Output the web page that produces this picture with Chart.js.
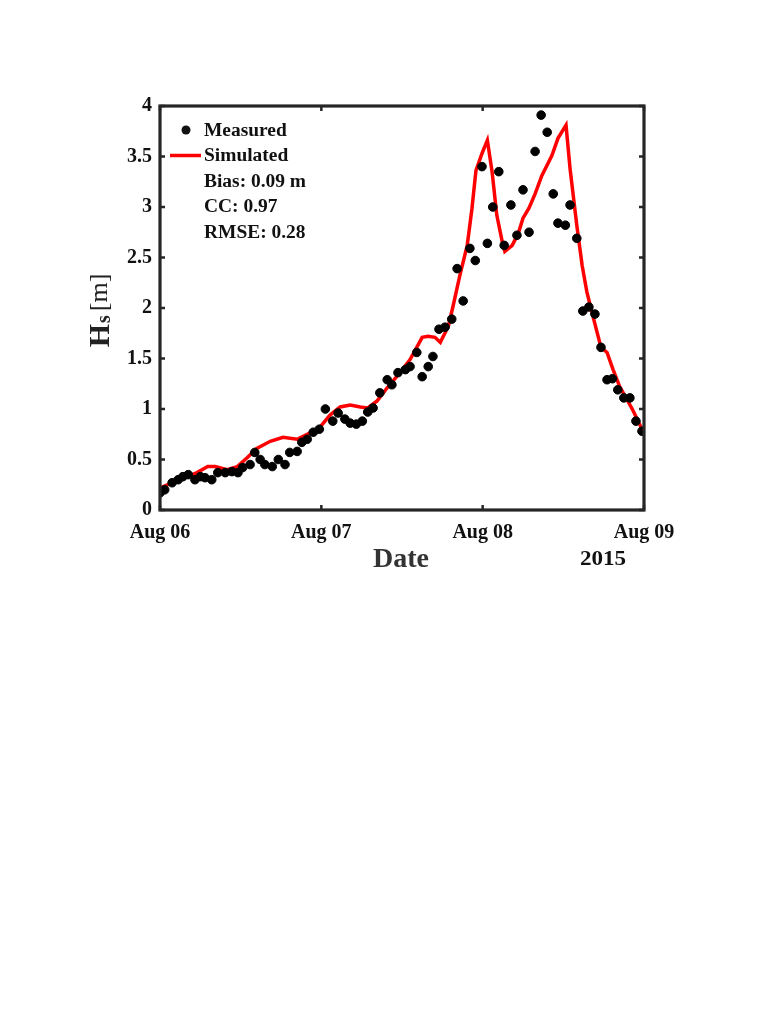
<!DOCTYPE html>
<html>
<head>
<meta charset="utf-8">
<script src="https://cdn.jsdelivr.net/npm/chart.js@4"></script>
<style>
  html, body { margin: 0; padding: 0; background: #fff; }
  #wrap { width: 768px; height: 1024px; }
</style>
</head>
<body>
<div id="wrap"><canvas id="chartHs" width="768" height="1024"></canvas></div>
<script>
// ===============================
// DATA (hours since Aug 06 00:00, Hs in m)
// ===============================
const dayLabels = ["Aug 06", "Aug 07", "Aug 08", "Aug 09"];

const measuredHours = [
    0.0, 0.7, 1.8, 2.7, 3.4, 4.2, 5.2, 6.0, 6.7, 7.7, 8.6, 9.7, 10.7, 11.6, 12.3, 13.4,
    14.1, 14.9, 15.6, 16.7, 17.6, 18.6, 19.3, 20.4, 21.1, 21.9, 22.8, 23.7, 24.6, 25.7,
    26.5, 27.5, 28.3, 29.2, 30.1, 30.9, 31.7, 32.7, 33.8, 34.5, 35.4, 36.5, 37.2, 38.2,
    39.0, 39.9, 40.6, 41.5, 42.4, 43.4, 44.2, 45.1, 46.1, 46.9, 47.9, 48.7, 49.5, 50.4,
    51.2, 52.2, 53.1, 54.0, 54.9, 55.8, 56.7, 57.6, 58.5, 59.2, 60.3, 61.0, 62.0, 62.9,
    63.8, 64.7, 65.6, 66.5, 67.3, 68.1, 69.0, 69.9, 70.8, 71.7
];
const measuredHs = [
    0.17, 0.20, 0.27, 0.30, 0.33, 0.35, 0.30, 0.33, 0.32, 0.30, 0.37, 0.37, 0.38, 0.37, 0.42, 0.45,
    0.57, 0.50, 0.45, 0.43, 0.50, 0.45, 0.57, 0.58, 0.67, 0.70, 0.77, 0.80, 1.00, 0.88,
    0.96, 0.90, 0.86, 0.85, 0.88, 0.97, 1.01, 1.16, 1.29, 1.24, 1.36, 1.39, 1.42, 1.56,
    1.32, 1.42, 1.52, 1.79, 1.81, 1.89, 2.39, 2.07, 2.59, 2.47, 3.40, 2.64, 3.00, 3.35,
    2.62, 3.02, 2.72, 3.17, 2.75, 3.55, 3.91, 3.74, 3.13, 2.84, 2.82, 3.02, 2.69, 1.97,
    2.01, 1.94, 1.61, 1.29, 1.30, 1.19, 1.11, 1.11, 0.88, 0.78
];

const simulatedHours = [
    0.0, 3.0, 5.5, 7.1, 8.2, 10.0, 11.5, 13.0, 14.4, 16.4, 18.3, 20.4, 21.9, 23.8, 25.3,
    26.8, 28.3, 29.8, 30.9, 32.3, 33.8, 35.7, 37.2, 39.0, 39.9, 40.9, 41.7, 42.9, 43.6,
    44.6, 45.7, 46.4, 47.0, 47.9, 48.7, 49.4, 50.1, 50.9, 51.3, 52.4, 53.3, 54.0, 54.9,
    55.8, 56.8, 58.3, 59.2, 60.4, 61.0, 62.0, 62.8, 63.5, 64.4, 65.6, 66.5, 67.4, 68.4,
    69.5, 70.4, 71.7
];
const simulatedHs = [
    0.22, 0.30, 0.37, 0.43, 0.43, 0.40, 0.43, 0.52, 0.61, 0.68, 0.72, 0.70, 0.75, 0.82, 0.94,
    1.02, 1.04, 1.02, 1.01, 1.08, 1.21, 1.36, 1.49, 1.71, 1.72, 1.71, 1.66, 1.82, 2.02,
    2.32, 2.62, 2.98, 3.36, 3.53, 3.66, 3.35, 2.92, 2.66, 2.56, 2.62, 2.74, 2.89, 2.99,
    3.13, 3.31, 3.51, 3.68, 3.81, 3.38, 2.82, 2.42, 2.16, 1.92, 1.61, 1.56, 1.39, 1.22,
    1.09, 0.98, 0.80
];

const statsLines = ["Bias: 0.09 m", "CC: 0.97", "RMSE: 0.28"];

const SERIF = "'Liberation Serif', 'DejaVu Serif', serif";
const FRAME = "#262626";

// ===============================
// PLUGIN — moldura, ticks interiores, legenda, títulos
// ===============================
function wideText(ctx, txt, x, y, sx) {
    // texto um pouco esticado na horizontal, como no original
    ctx.save();
    ctx.translate(x, y);
    ctx.scale(sx, 1);
    ctx.fillText(txt, 0, 0);
    ctx.restore();
}

const framePlugin = {
    id: "frame",
    afterDraw(chart) {
        const { ctx, chartArea: a, scales } = chart;
        const xs = scales.x, ys = scales.y;
        ctx.save();
        ctx.strokeStyle = FRAME;
        ctx.lineWidth = 3.2;
        ctx.strokeRect(a.left, a.top, a.right - a.left, a.bottom - a.top);

        // ticks para dentro
        ctx.lineWidth = 2.5;
        ctx.beginPath();
        ys.ticks.forEach(t => {
            const y = ys.getPixelForValue(t.value);
            ctx.moveTo(a.left, y); ctx.lineTo(a.left + 5, y);
            ctx.moveTo(a.right, y); ctx.lineTo(a.right - 5, y);
        });
        xs.ticks.forEach(t => {
            const x = xs.getPixelForValue(t.value);
            ctx.moveTo(x, a.bottom); ctx.lineTo(x, a.bottom - 5);
            ctx.moveTo(x, a.top); ctx.lineTo(x, a.top + 5);
        });
        ctx.stroke();

        // legenda
        ctx.font = "bold 18px " + SERIF;
        ctx.fillStyle = "#111";
        ctx.textBaseline = "middle";
        ctx.textAlign = "left";
        const lx = a.left + 44, ly = a.top + 25, dy = 25.5;
        ctx.beginPath();
        ctx.arc(a.left + 26, ly - 1, 4.5, 0, Math.PI * 2);
        ctx.fill();
        wideText(ctx, "Measured", lx, ly, 1.08);
        ctx.strokeStyle = "#ff0000";
        ctx.lineWidth = 3.5;
        ctx.beginPath();
        ctx.moveTo(a.left + 10, ly + dy - 1);
        ctx.lineTo(a.left + 41, ly + dy - 1);
        ctx.stroke();
        wideText(ctx, "Simulated", lx, ly + dy, 1.08);
        statsLines.forEach((s, i) => wideText(ctx, s, lx, ly + dy * (i + 2), 1.08));

        // título do eixo x e ano
        ctx.textAlign = "center";
        ctx.font = "bold 28px " + SERIF;
        ctx.fillStyle = "#333";
        ctx.fillText("Date", 401, 560);
        ctx.font = "bold 21px " + SERIF;
        ctx.fillStyle = "#111";
        wideText(ctx, "2015", 603, 560, 1.1);

        // título do eixo y: Hs [m]
        ctx.translate(101, 311);
        ctx.rotate(-Math.PI / 2);
        ctx.fillStyle = "#222";
        ctx.textAlign = "left";
        ctx.font = "bold 30px " + SERIF;
        const hW = ctx.measureText("H").width;
        ctx.font = "bold 20px " + SERIF;
        const sW = ctx.measureText("s").width;
        ctx.font = "26px " + SERIF;
        const mW = ctx.measureText("[m]").width;
        let x0 = -(hW + sW + 4 + mW) / 2;
        ctx.font = "bold 30px " + SERIF;
        ctx.fillText("H", x0, 0);
        ctx.font = "bold 20px " + SERIF;
        ctx.fillText("s", x0 + hW + 1, 4);
        ctx.font = "26px " + SERIF;
        ctx.fillText("[m]", x0 + hW + sW + 5, -1);
        ctx.restore();
    }
};

// ===============================
// GRÁFICO
// ===============================
const measuredPts = measuredHours.map((h, i) => ({ x: h, y: measuredHs[i] }));
const simulatedPts = simulatedHours.map((h, i) => ({ x: h, y: simulatedHs[i] }));

new Chart(document.getElementById("chartHs"), {
    type: "scatter",
    data: {
        datasets: [
            {
                label: "Simulated",
                type: "line",
                data: simulatedPts,
                borderColor: "#ff0000",
                borderWidth: 3.5,
                pointRadius: 0,
                tension: 0,
                fill: false,
                order: 2
            },
            {
                label: "Measured",
                data: measuredPts,
                backgroundColor: "#000",
                borderColor: "#000",
                pointRadius: 4.3,
                order: 1
            }
        ]
    },
    options: {
        responsive: false,
        animation: false,
        layout: { padding: { left: 0, right: 124, top: 106, bottom: 474 } },
        plugins: { legend: { display: false }, tooltip: { enabled: false } },
        scales: {
            x: {
                type: "linear",
                min: 0,
                max: 72,
                afterFit: s => { s.height = 40; },
                grid: { display: false, drawTicks: false },
                border: { display: false },
                ticks: {
                    stepSize: 24,
                    padding: 11,
                    color: "#111",
                    font: { family: SERIF, size: 20, weight: "bold" },
                    callback: v => dayLabels[v / 24] ?? ""
                }
            },
            y: {
                min: 0,
                max: 4,
                afterFit: s => { s.width = 160; },
                grid: { display: false, drawTicks: false },
                border: { display: false },
                ticks: {
                    stepSize: 0.5,
                    padding: 8,
                    color: "#111",
                    font: { family: SERIF, size: 20, weight: "bold" },
                    callback: v => String(v)
                }
            }
        }
    },
    plugins: [framePlugin]
});
</script>
</body>
</html>
